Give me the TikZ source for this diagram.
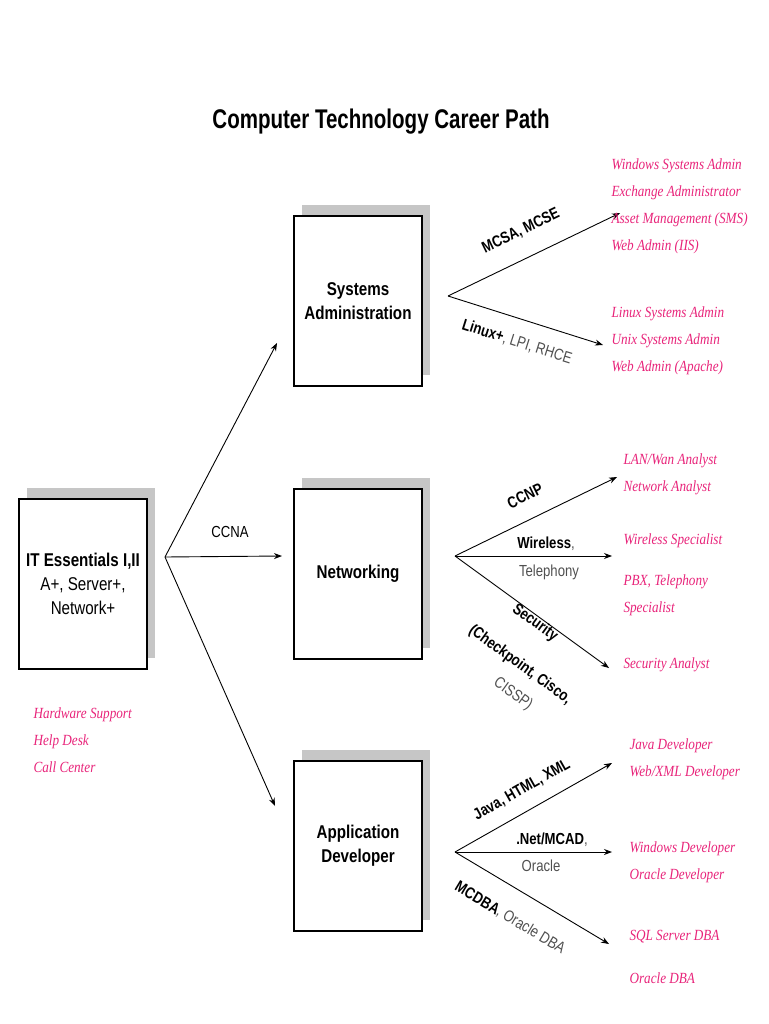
\documentclass[tikz,border=0pt]{standalone}
\usepackage{fontspec}
\setmainfont{Liberation Sans}[FakeStretch=0.82]
\newfontfamily\titlefont{Liberation Sans}[FakeStretch=0.76]
\newfontfamily\jobfont{Liberation Serif}[FakeStretch=0.85]
\usetikzlibrary{shadows,arrows.meta}
\definecolor{jobpink}{HTML}{E8247A}
\definecolor{softgray}{HTML}{505050}
\begin{document}
\begin{tikzpicture}[x=1pt,y=-1pt,
    stage/.style={draw,line width=1.4pt,fill=white,minimum width=128pt,minimum height=170pt,
      align=center,font=\fontsize{18.5}{24}\selectfont\bfseries,
      copy shadow={shadow xshift=8pt,shadow yshift=11pt,fill=gray!45,draw=none}},
    path/.style={-{Stealth[length=8pt,width=6pt]},line width=0.9pt},
    cert/.style={font=\fontsize{16}{18}\selectfont\bfseries},
    plain/.style={font=\fontsize{16}{18}\selectfont,text=softgray},
    job/.style={text=jobpink,font=\jobfont\itshape\fontsize{15.5}{27}\selectfont,align=left,anchor=north west}]
    \useasboundingbox (0,0) rectangle (768,1024);
    % Title
    \node[font=\titlefont\fontsize{27}{32}\selectfont\bfseries] (title) at (381,122) {Computer Technology Career Path};
    % Stages
    \node[stage] (itess) at (83,584) {IT Essentials I,II\\\mdseries A+, Server+,\\\mdseries Network+};
    \node[stage] (sysadm) at (358,301) {Systems\\Administration};
    \node[stage] (netw) at (358,574) {Networking};
    \node[stage] (appdev) at (358,846) {Application\\Developer};
    % Fan points
    \coordinate (itfan) at (165,557);
    \coordinate (sysfan) at (448,296);
    \coordinate (netfan) at (455,556);
    \coordinate (appfan) at (455,852);
    % From IT Essentials
    \coordinate (it1) at (277,343);
    \coordinate (it2) at (282,556);
    \coordinate (it3) at (275,806);
    \draw[path] (itfan) -- (it1);
    \draw[path] (itfan) -- (it2);
    \draw[path] (itfan) -- (it3);
    \node[plain,text=black] (ccna) at (230,532) {CCNA};
    % Systems administration
    \coordinate (sys1) at (620,213);
    \coordinate (sys2) at (603,345);
    \draw[path] (sysfan) -- (sys1);
    \draw[path] (sysfan) -- (sys2);
    \node[cert,rotate=25.8] (mcsa) at (521,231) {MCSA, MCSE};
    \node[cert,rotate=-17.5] (linux) at (517,342) {Linux+\mdseries\color{softgray}, LPI, RHCE};
    % Networking
    \coordinate (net1) at (617,477);
    \coordinate (net2) at (612,556);
    \coordinate (net3) at (609,668);
    \draw[path] (netfan) -- (net1);
    \draw[path] (netfan) -- (net2);
    \draw[path] (netfan) -- (net3);
    \node[cert,rotate=26] (ccnp) at (525,496) {CCNP};
    \node[cert] (wless) at (546,544) {Wireless\mdseries\color{softgray},};
    \node[plain] (tphone) at (549,572) {Telephony};
    \node[cert,rotate=-36] (secur) at (535,623) {Security};
    \node[cert,rotate=-36] (chkpt) at (520,665) {(Checkpoint, Cisco,};
    \node[plain,rotate=-36] (cissp) at (513,694) {CISSP)};
    % Application developer
    \coordinate (app1) at (612,763);
    \coordinate (app2) at (612,852);
    \coordinate (app3) at (609,944);
    \draw[path] (appfan) -- (app1);
    \draw[path] (appfan) -- (app2);
    \draw[path] (appfan) -- (app3);
    \node[cert,rotate=29.5] (javah) at (522,790) {Java, HTML, XML};
    \node[cert] (dotnet) at (552,840) {.Net/MCAD\mdseries\color{softgray},};
    \node[plain] (oracle) at (541,866) {Oracle};
    \node[cert,rotate=-30.9] (mcdba) at (510,918) {MCDBA\mdseries\color{softgray}, Oracle DBA};
    % Jobs
    \node[job] (jobhw) at (30,704) {Hardware Support\\Help Desk\\Call Center};
    \node[job] (jobwin) at (608,155) {Windows Systems Admin\\Exchange Administrator\\Asset Management (SMS)\\Web Admin (IIS)};
    \node[job] (joblnx) at (608,303) {Linux Systems Admin\\Unix Systems Admin\\Web Admin (Apache)};
    \node[job] (joblan) at (620,450) {LAN/Wan Analyst\\Network Analyst};
    \node[job] (jobwl) at (620,530) {Wireless Specialist};
    \node[job] (jobpbx) at (620,571) {PBX, Telephony\\Specialist};
    \node[job] (jobsec) at (620,654) {Security Analyst};
    \node[job] (jobjava) at (626,735) {Java Developer\\Web/XML Developer};
    \node[job] (jobwind) at (626,838) {Windows Developer\\Oracle Developer};
    \node[job] (jobsql) at (626,927) {SQL Server DBA};
    \node[job] (jobora) at (626,969) {Oracle DBA};
\end{tikzpicture}
\end{document}
